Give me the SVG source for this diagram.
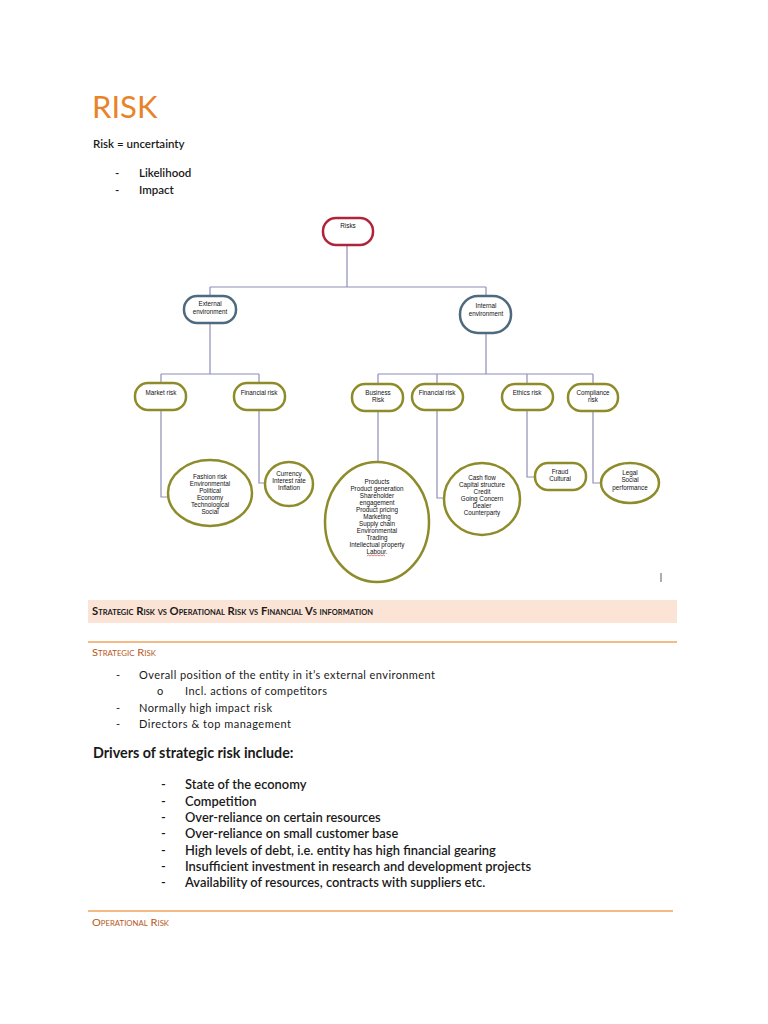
<svg xmlns="http://www.w3.org/2000/svg" width="768" height="1024" viewBox="0 0 768 1024">
<style>
.doc{font-family:Lato,"Open Sans","Liberation Sans",sans-serif;fill:#1a1a1a}
.sb{font-weight:600;font-size:11.5px}
.rg{font-size:11px}
.dr{font-weight:600;font-size:12.9px}
.sc{font-variant:small-caps;font-size:10.5px;font-weight:700}
.nt{font-family:"Liberation Sans",Arial,sans-serif;font-size:6.3px;fill:#111;text-anchor:middle}
.pred{fill:#fff;stroke:#B0243A;stroke-width:2.5}
.pblue{fill:#fff;stroke:#4E6A7E;stroke-width:2.5}
.pol{fill:#fff;stroke:#8E8C2A;stroke-width:2.5}
.cn{fill:none;stroke:#8E8EB6;stroke-width:1.2}
.rule{stroke:#F0A45E;stroke-width:1.5}
</style>
<rect width="768" height="1024" fill="#fff"/>
<text x="92" y="118" font-family="Lato,'Open Sans',sans-serif" font-size="31" fill="#E8832A">RISK</text>
<text class="doc sb" x="93" y="148">Risk = uncertainty</text>
<text class="doc sb" x="115" y="177">-</text>
<text class="doc sb" x="139" y="177">Likelihood</text>
<text class="doc sb" x="115" y="194">-</text>
<text class="doc sb" x="139" y="194">Impact</text>

<g id="connectors">
<path class="cn" d="M347 245 V287 M210 287 H486 M210 287 V296 M486 287 V296"/>
<path class="cn" d="M210 323 V374 M161 374 H259 M161 374 V383 M259 374 V383"/>
<path class="cn" d="M486 333 V374 M378 374 H593 M378 374 V384 M437 374 V384 M527 374 V384 M593 374 V384"/>
<path class="cn" d="M161 410 V497 H169"/>
<path class="cn" d="M259 410 V483 H265"/>
<path class="cn" d="M378 411 V462"/>
<path class="cn" d="M437 410 V498 H445"/>
<path class="cn" d="M527 410 V477 H535"/>
<path class="cn" d="M593 411 V483 H601"/>
</g>

<g id="n-risks"><rect class="pred" x="323" y="218" width="50" height="27" rx="13"/><text class="nt" x="348" y="228">Risks</text></g>
<g id="n-external"><rect class="pblue" x="184" y="296" width="52" height="27" rx="13"/><text class="nt" x="210" y="306">External</text><text class="nt" x="210" y="314">environment</text></g>
<g id="n-internal"><rect class="pblue" x="460" y="296" width="51" height="37" rx="18"/><text class="nt" x="486" y="308">Internal</text><text class="nt" x="486" y="316">environment</text></g>

<g id="n-market"><rect class="pol" x="135" y="383" width="51" height="27" rx="13"/><text class="nt" x="161" y="395">Market risk</text></g>
<g id="n-financial1"><rect class="pol" x="234" y="383" width="51" height="27" rx="13"/><text class="nt" x="259" y="395">Financial risk</text></g>
<g id="n-business"><rect class="pol" x="352" y="384" width="51" height="27" rx="13"/><text class="nt" x="378" y="395">Business</text><text class="nt" x="378" y="402">Risk</text></g>
<g id="n-financial2"><rect class="pol" x="412" y="384" width="51" height="26" rx="13"/><text class="nt" x="437" y="395">Financial risk</text></g>
<g id="n-ethics"><rect class="pol" x="502" y="384" width="51" height="26" rx="13"/><text class="nt" x="527" y="395">Ethics risk</text></g>
<g id="n-compliance"><rect class="pol" x="568" y="384" width="50" height="27" rx="13"/><text class="nt" x="593" y="395">Compliance</text><text class="nt" x="593" y="402">risk</text></g>

<g id="n-fashion"><ellipse class="pol" cx="210" cy="493" rx="42" ry="33"/>
<text class="nt" x="210" y="479">Fashion risk</text><text class="nt" x="210" y="486">Environmental</text><text class="nt" x="210" y="493">Political</text><text class="nt" x="210" y="500">Economy</text><text class="nt" x="210" y="507">Technological</text><text class="nt" x="210" y="514">Social</text></g>
<g id="n-currency"><ellipse class="pol" cx="289" cy="484" rx="24" ry="22"/>
<text class="nt" x="289" y="476">Currency</text><text class="nt" x="289" y="483">Interest rate</text><text class="nt" x="289" y="490">Inflation</text></g>
<g id="n-products"><ellipse class="pol" cx="377" cy="522" rx="52" ry="60"/>
<text class="nt" x="377" y="484">Products</text><text class="nt" x="377" y="491">Product generation</text><text class="nt" x="377" y="498">Shareholder</text><text class="nt" x="377" y="505">engagement</text><text class="nt" x="377" y="512">Product pricing</text><text class="nt" x="377" y="519">Marketing</text><text class="nt" x="377" y="526">Supply chain</text><text class="nt" x="377" y="533">Environmental</text><text class="nt" x="377" y="540">Trading</text><text class="nt" x="377" y="547">Intellectual property</text><text class="nt" x="377" y="554">Labour.</text>
<path d="M367 556 l1.5 -1 l1.5 1 l1.5 -1 l1.5 1 l1.5 -1 l1.5 1 l1.5 -1 l1.5 1 l1.5 -1 l1.5 1 l1.5 -1 l1.5 1" fill="none" stroke="#D02020" stroke-width="0.6"/></g>
<g id="n-cashflow"><ellipse class="pol" cx="482" cy="499" rx="38" ry="36"/>
<text class="nt" x="482" y="480">Cash flow</text><text class="nt" x="482" y="487">Capital structure</text><text class="nt" x="482" y="494">Credit</text><text class="nt" x="482" y="501">Going Concern</text><text class="nt" x="482" y="508">Dealer</text><text class="nt" x="482" y="515">Counterparty</text></g>
<g id="n-fraud"><rect class="pol" x="535" y="463" width="51" height="27" rx="13"/><text class="nt" x="560" y="474">Fraud</text><text class="nt" x="560" y="481">Cultural</text></g>
<g id="n-legal"><ellipse class="pol" cx="630" cy="483" rx="29" ry="20"/><text class="nt" x="630" y="475">Legal</text><text class="nt" x="630" y="482">Social</text><text class="nt" x="630" y="490">performance</text></g>

<line x1="661" y1="573" x2="661" y2="582" stroke="#333" stroke-width="0.8"/>

<rect x="88" y="600" width="589" height="23" fill="#FBE4D5"/>
<text class="doc sc" x="92" y="615" textLength="281" lengthAdjust="spacingAndGlyphs">Strategic Risk vs Operational Risk vs Financial Vs information</text>
<line class="rule" x1="88" y1="642" x2="677" y2="642"/>
<text class="doc sc" x="92" y="656" style="fill:#B8561A;font-weight:400;font-size:10px" textLength="64" lengthAdjust="spacingAndGlyphs">Strategic Risk</text>

<text class="doc rg" x="116" y="679">-</text>
<text class="doc rg" x="139" y="679" textLength="296">Overall position of the entity in it’s external environment</text>
<text class="doc rg" x="157" y="695">o</text>
<text class="doc rg" x="185" y="695" textLength="142">Incl. actions of competitors</text>
<text class="doc rg" x="116" y="712">-</text>
<text class="doc rg" x="139" y="712" textLength="133">Normally high impact risk</text>
<text class="doc rg" x="116" y="728">-</text>
<text class="doc rg" x="139" y="728" textLength="152">Directors &amp; top management</text>

<text class="doc" x="93" y="758" font-size="14.3" font-weight="700">Drivers of strategic risk include:</text>

<g class="doc dr">
<text x="161" y="789">-</text><text x="185" y="789">State of the economy</text>
<text x="161" y="806">-</text><text x="185" y="806">Competition</text>
<text x="161" y="822">-</text><text x="185" y="822">Over-reliance on certain resources</text>
<text x="161" y="838">-</text><text x="185" y="838">Over-reliance on small customer base</text>
<text x="161" y="855">-</text><text x="185" y="855">High levels of debt, i.e. entity has high financial gearing</text>
<text x="161" y="871">-</text><text x="185" y="871">Insufficient investment in research and development projects</text>
<text x="161" y="887">-</text><text x="185" y="887">Availability of resources, contracts with suppliers etc.</text>
</g>
<line class="rule" x1="88" y1="911" x2="673" y2="911"/>
<text class="doc sc" x="92" y="926" style="fill:#B8561A;font-weight:400;font-size:10px" textLength="77" lengthAdjust="spacingAndGlyphs">Operational Risk</text>
</svg>
